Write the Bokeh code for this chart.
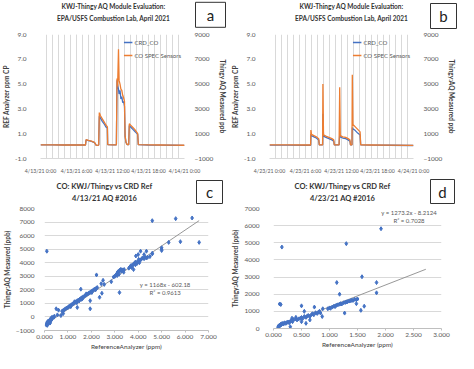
from bokeh.plotting import figure
from bokeh.models import (Range1d, LinearAxis, FixedTicker, Legend, LegendItem,
                          NumeralTickFormatter)
from bokeh.layouts import column, row
from bokeh.core.properties import value
from bokeh.embed import file_html
from bokeh.resources import INLINE

FONT = "Lato"
BLUE = "#4472C4"
ORANGE = "#ED7D31"
TXT = "#595959"
GRID = "#d9d9d9"

# ---------------- data ----------------
a_title = ["KWJ-Thingy AQ Module Evaluation:", "EPA/USFS Combustion Lab, April 2021"]
b_title = ["KWJ-Thingy AQ Module Evaluation:", "EPA/USFS Combustion Lab, April 2021"]
c_title = ["CO: KWJ/Thingy vs CRD Ref", "4/13/21 AQ #2016"]
d_title = ["CO: KWJ/Thingy vs CRD Ref", "4/23/21 AQ #2016"]

a_tick_hours = [0, 6, 12, 18, 24]
a_tick_labels = ["4/13/21 0:00", "4/13/21 6:00", "4/13/21 12:00", "4/13/21 18:00", "4/14/21 0:00"]
b_tick_labels = ["4/23/21 0:00", "4/23/21 6:00", "4/23/21 12:00", "4/23/21 18:00", "4/24/21 0:00"]
left_ticks = [-1, 1, 3, 5, 7, 9]
right_ticks = [-1000, 1000, 3000, 5000, 7000, 9000]

a_hours = [0, 2, 4, 6, 7.5, 7.6, 8.0, 8.5, 9.0, 9.3, 9.7, 9.8, 10.0, 10.3, 10.6, 10.9, 11.15, 11.2,
           12.0, 12.65, 12.75, 12.85, 13.0, 13.1, 13.25, 13.4, 13.55, 13.7, 13.85, 14.0, 14.1,
           14.25, 14.45, 14.7, 14.8, 15.1, 15.4, 15.7, 16.0, 16.2, 16.3, 18, 20, 22, 24]
a_crd = [0.10, 0.10, 0.09, 0.09, 0.09, 0.50, 0.45, 0.38, 0.28, 0.05, 0.08, 2.40, 2.25, 2.00, 1.80,
         1.55, 1.45, 0.12, 0.10, 0.10, 5.30, 4.90, 4.60, 4.20, 4.50, 3.80, 4.00, 3.50, 3.60, 3.20,
         0.80, 0.30, 0.12, 0.12, 1.65, 1.50, 1.35, 1.20, 1.05, 0.95, 0.12, 0.09, 0.08, 0.07, 0.06]
a_spec = [100, 100, 90, 90, 90, 530, 470, 400, 300, 60, 80, 2700, 2450, 2200, 1950, 1700, 1550,
          120, 100, 100, 5450, 4800, 7800, 5300, 5000, 4600, 4500, 4100, 3900, 3600, 800, 300,
          120, 120, 1800, 1650, 1500, 1350, 1150, 1000, 120, 100, 90, 80, 70]

b_hours = [0, 3, 6, 6.85, 6.9, 7.0, 7.4, 7.8, 8.2, 8.3, 8.85, 8.9, 9.0, 9.4, 9.9, 10.4, 10.7, 10.8,
           11.6, 11.7, 11.8, 12.2, 12.7, 13.1, 13.4, 13.5, 13.75, 13.8, 13.9, 14.3, 14.7, 15.1,
           15.2, 17, 20, 24]
b_crd = [0.08, 0.08, 0.07, 0.07, 0.95, 0.85, 0.75, 0.65, 0.50, 0.10, 0.10, 2.60, 0.80, 0.70, 0.60,
         0.50, 0.40, 0.10, 0.10, 0.90, 0.75, 0.65, 0.60, 0.50, 0.40, 0.10, 0.10, 1.50, 1.40, 1.25,
         1.05, 0.90, 0.10, 0.08, 0.07, 0.05]
b_spec = [100, 100, 90, 90, 1300, 950, 850, 750, 600, 100, 100, 5000, 900, 800, 700, 600, 500, 100,
          100, 4750, 850, 750, 700, 600, 500, 100, 100, 5750, 1750, 1550, 1350, 1150, 100, 90, 80, 60]

c_ref = [0.08, 0.10, 0.12, 0.10, 0.14, 0.15, 0.18, 0.20, 0.22, 0.17, 0.25, 0.28, 0.30, 0.26, 0.32,
         0.35, 0.38, 0.30, 0.40, 0.42, 0.13, 0.21, 0.24, 0.12,
         0.10, 0.50, 0.60, 0.55, 0.70, 0.80,
         0.75, 0.80, 0.85, 0.90, 0.95, 1.00, 1.05, 1.10, 1.15, 1.20, 1.25, 1.30, 1.35, 1.40, 1.45,
         1.50, 1.55, 1.60, 1.65, 1.70, 1.75, 1.80, 1.85, 1.90, 1.95, 2.00, 2.05, 2.10, 2.15, 2.20,
         2.25, 1.12, 1.28, 1.48, 1.62, 1.78, 2.02, 2.18, 1.38, 1.58,
         1.55, 1.95, 1.95, 1.40, 2.22, 2.35, 2.45, 2.42, 2.50, 2.55, 2.85, 3.20,
         2.95, 3.00, 3.05, 3.10, 3.12, 3.15, 3.20, 3.22, 3.25, 3.30, 3.35, 3.40, 3.10, 3.18, 3.28,
         3.38, 3.60, 3.65, 3.70, 3.75, 3.80, 3.85, 3.90, 3.95, 4.00, 4.05, 4.10, 4.15, 4.20, 4.25,
         4.30, 4.35, 4.40, 3.72, 3.88, 4.02,
         3.90, 4.00, 4.10, 4.25, 4.35, 4.60, 4.60, 5.00, 5.00, 5.00, 5.30, 5.80, 6.60, 4.60, 5.60,
         6.30, 3.80, 4.50]
c_meas = [-600, -550, -500, -450, -520, -400, -450, -350, -400, -300, -300, -250, -200, -150, -100,
          -50, 0, -50, -20, 50, -350, -250, -450, -620,
          4850, 600, 500, 150, 100, 250,
          425, 480, 540, 600, 660, 700, 780, 830, 900, 950, 1010, 1080, 1130, 1190, 1250,
          1300, 1360, 1420, 1480, 1530, 1600, 1650, 1700, 1770, 1820, 1880, 1930, 2000, 2050, 2100,
          2170, 760, 1120, 1180, 1350, 1700, 1800, 2000, 1050, 1300,
          2050, 600, 1200, 700, 3100, 1450, 1750, 2450, 2700, 2400, 2600, 1800,
          2950, 3000, 3100, 3200, 3300, 3350, 3400, 3450, 3500, 3480, 3450, 3500, 3050, 3150, 3380,
          3300, 3600, 3700, 3800, 3750, 3900, 4000, 4050, 3950, 4100, 4000, 4200, 4300, 4350, 4300,
          4400, 4350, 4400, 3650, 3850, 4250,
          4500, 4600, 4850, 4600, 4850, 4700, 4650, 4900, 5000, 5100, 5500, 5550, 5500, 7100, 7250,
          7300, 3500, 4450]
c_slope, c_intercept = 1168, -602.18
c_trend_x = [0.08, 6.6]
c_eq = ["y = 1168x - 602.18", "R\u00b2 = 0.9613"]

d_ref = [0.08, 0.09, 0.10, 0.11, 0.12, 0.13, 0.14, 0.15, 0.17, 0.18, 0.20, 0.22, 0.24, 0.26, 0.28,
         0.30, 0.32, 0.34, 0.36, 0.40, 0.42, 0.45, 0.48, 0.50, 0.52, 0.55, 0.58, 0.60, 0.62, 0.65,
         0.68, 0.70, 0.72, 0.75, 0.78, 0.80, 0.82, 0.84, 0.97, 1.00, 1.02, 1.05, 1.08, 1.10, 1.12,
         1.15, 1.18, 1.20, 1.22, 1.25, 1.28, 1.30, 1.32, 1.35, 1.38, 1.40, 1.42, 1.45, 1.48, 1.50,
         0.15, 0.11, 0.13, 0.30, 0.50, 0.55, 0.50, 0.58, 0.65, 0.73, 0.87, 0.88, 1.13, 1.18, 1.27,
         1.30, 1.56, 1.62, 1.58, 1.84, 1.84, 1.92, 1.48, 0.40, 0.33]
d_meas = [80, 150, 120, 200, 180, 250, 220, 280, 300, 260, 330, 300, 350, 380, 330,
          420, 450, 400, 520, 560, 500, 560, 600, 640, 580, 700, 650, 720, 760, 700,
          820, 860, 800, 920, 880, 950, 1000, 900, 1150, 1200, 1180, 1250, 1300, 1280, 1350,
          1380, 1420, 1450, 1430, 1500, 1520, 1550, 1560, 1600, 1620, 1650, 1640, 1700, 1680, 1720,
          4750, 1430, 1400, 100, 1320, 1000, 400, 300, 500, 1250, 700, 1150, 2680, 2000, 900,
          4950, 1060, 1300, 3020, 2680, 2080, 5820, 1450, 650, 600]
d_slope, d_intercept = 1273.2, -8.2124
d_trend_x = [0.08, 2.72]
d_eq = ["y = 1273.2x - 8.2124", "R\u00b2 = 0.7028"]


# ---------------- helpers ----------------
W = 229


def header(h, titles, tx, ty, tsize, letter, bx, by, bw, bh):
    """Title strip above each chart: two title lines and the boxed panel letter."""
    p = figure(width=W, height=h, x_range=Range1d(0, W), y_range=Range1d(0, h),
               output_backend="svg", toolbar_location=None, min_border=0,
               x_axis_location=None, y_axis_location=None, frame_align=False)
    p.grid.visible = False
    p.outline_line_color = None
    p.text(x=[tx, tx], y=[h - ty[0], h - ty[1]], text=titles,
           text_font=value(FONT), text_font_size=value(tsize), text_font_style="bold",
           text_color="#333333", text_align="center", text_baseline="middle")
    p.rect(x=[bx], y=[h - by], width=bw, height=bh, fill_color="white",
           line_color="#333333", line_width=1)
    p.text(x=[bx], y=[h - by], text=[letter], text_font=value(FONT),
           text_font_size=value("15px"), text_color="#222222",
           text_align="center", text_baseline="middle")
    return p


def style_axis(ax, size="6.5px"):
    ax.major_label_text_font = FONT
    ax.major_label_text_font_size = size
    ax.major_label_text_color = TXT
    ax.axis_label_text_font = FONT
    ax.axis_label_text_color = "#404040"


def time_panel(hours, crd, spec, tick_labels, right_title, ml, mr):
    p = figure(width=W, height=146, x_range=Range1d(0, 24), y_range=Range1d(-1, 9),
               output_backend="svg", toolbar_location=None, frame_align=False,
               min_border_left=ml, min_border_right=mr, min_border_top=4, min_border_bottom=17)
    p.outline_line_color = None
    p.extra_y_ranges = {"ppb": Range1d(-1000, 9000)}

    r1 = p.line(hours, crd, line_color=BLUE, line_width=1.3)
    r2 = p.line(hours, spec, line_color=ORANGE, line_width=1.3, y_range_name="ppb")

    xa = p.xaxis[0]
    xa.ticker = FixedTicker(ticks=a_tick_hours, minor_ticks=list(range(0, 25)))
    xa.major_label_overrides = {h: t for h, t in zip(a_tick_hours, tick_labels)}
    xa.axis_line_color = GRID
    xa.major_tick_line_color = None
    xa.minor_tick_line_color = None
    xa.major_label_standoff = 3
    style_axis(xa, "5.2px")

    ya = p.yaxis[0]
    ya.ticker = FixedTicker(ticks=left_ticks)
    ya.formatter = NumeralTickFormatter(format="0.0")
    ya.axis_label = "REF Analyzer ppm CP"
    ya.axis_line_color = None
    ya.major_tick_line_color = None
    ya.minor_tick_line_color = None
    ya.major_label_standoff = 8
    ya.axis_label_standoff = 2
    style_axis(ya)
    ya.axis_label_text_font_size = "6.5px"
    ya.axis_label_text_font_style = "bold"

    ra = LinearAxis(y_range_name="ppb", ticker=FixedTicker(ticks=right_ticks),
                    axis_label=right_title)
    ra.axis_line_color = None
    ra.major_tick_line_color = None
    ra.minor_tick_line_color = None
    ra.major_label_standoff = 4
    ra.axis_label_standoff = 3
    style_axis(ra)
    ra.axis_label_text_font_size = "6.5px"
    ra.axis_label_text_font_style = "bold"
    p.add_layout(ra, "right")

    p.xgrid.grid_line_color = GRID
    p.xgrid.minor_grid_line_color = GRID
    p.ygrid.grid_line_color = None

    leg = Legend(items=[LegendItem(label="CRD_CO", renderers=[r1]),
                        LegendItem(label="CO SPEC Sensors", renderers=[r2])],
                 location="top_right", background_fill_alpha=0, border_line_color=None,
                 label_text_font=FONT, label_text_font_size="6px", label_text_color=TXT,
                 glyph_width=9, glyph_height=10, label_height=10, spacing=3, padding=0,
                 margin=3, label_standoff=2)
    p.add_layout(leg)
    return p


def scatter_panel(xs, ys, xr, yr, xticks, yticks, slope, intercept, trend_x, eq, eq_x, eq_y,
                  ml, mr, mb, yl_standoff):
    p = figure(width=W, height=148, x_range=Range1d(*xr), y_range=Range1d(*yr),
               output_backend="svg", toolbar_location=None, frame_align=False,
               min_border_left=ml, min_border_right=mr, min_border_top=4, min_border_bottom=mb)
    p.outline_line_color = None
    p.xgrid.grid_line_color = None
    p.ygrid.grid_line_color = GRID

    trend_y = [slope * x + intercept for x in trend_x]
    p.line(trend_x, trend_y, line_color="#8c8c8c", line_width=0.9)
    p.scatter(xs, ys, marker="diamond", size=4, color=BLUE)

    p.text(x=[eq_x, eq_x], y=eq_y, text=eq, text_font=value(FONT),
           text_font_size=value("6px"), text_color=TXT, text_align="center",
           text_baseline="middle")

    xa = p.xaxis[0]
    xa.ticker = FixedTicker(ticks=xticks)
    xa.formatter = NumeralTickFormatter(format="0.000")
    xa.axis_label = "ReferenceAnalyzer (ppm)"
    xa.axis_line_color = "#bfbfbf"
    xa.major_tick_line_color = "#bfbfbf"
    xa.major_tick_out = 2
    xa.major_tick_in = 0
    xa.minor_tick_line_color = None
    xa.major_label_standoff = 2
    xa.axis_label_standoff = 1
    style_axis(xa)
    xa.axis_label_text_font_size = "6.5px"
    xa.axis_label_text_font_style = "normal"

    ya = p.yaxis[0]
    ya.ticker = FixedTicker(ticks=yticks)
    ya.axis_label = "Thingy:AQ Measured (ppb)"
    ya.axis_line_color = None
    ya.major_tick_line_color = None
    ya.minor_tick_line_color = None
    ya.major_label_standoff = yl_standoff
    ya.axis_label_standoff = 2
    style_axis(ya)
    ya.axis_label_text_font_size = "6.5px"
    ya.axis_label_text_font_style = "bold"
    return p


ha = header(30, a_title, 113, (6, 17.5), "6.5px", "a", 210, 14.3, 30, 25)
pa = time_panel(a_hours, a_crd, a_spec, a_tick_labels, "Thingy AQ Measured ppb", 28, 37)
hb = header(30, b_title, 122, (6, 17.5), "6.5px", "b", 214, 15.5, 26, 25)
pb = time_panel(b_hours, b_crd, b_spec, b_tick_labels, "Thingy:AQ Measured ppb", 33, 28)

hc = header(28, c_title, 104, (9.5, 21.5), "7.5px", "c", 209, 15.5, 26, 23)
pc = scatter_panel(c_ref, c_meas, (0, 7), (-1000, 8000), [0, 1, 2, 3, 4, 5, 6, 7],
                   list(range(-1000, 8001, 1000)), c_slope, c_intercept, c_trend_x, c_eq,
                   5.15, [2370, 1770], 31, 21, 22, 4)
hd = header(28, d_title, 113, (9.5, 21.5), "7.5px", "d", 213, 15, 24, 24)
pd = scatter_panel(d_ref, d_meas, (0, 3), (0, 7000), [0, 0.5, 1, 1.5, 2, 2.5, 3],
                   list(range(0, 7001, 1000)), d_slope, d_intercept, d_trend_x, d_eq,
                   2.42, [6750, 6300], 35, 17, 24, 8)

layout = column(row(column(ha, pa), column(hb, pb)),
                row(column(hc, pc), column(hd, pd)))

with open("out.html", "w") as f:
    f.write(file_html(layout, INLINE))
